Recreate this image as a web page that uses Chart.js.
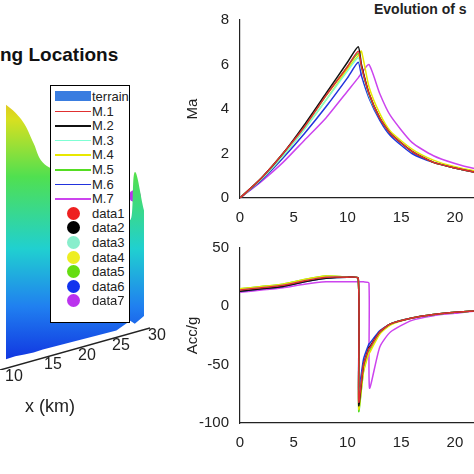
<!DOCTYPE html>
<html>
<head>
<meta charset="utf-8">
<script src="https://cdn.jsdelivr.net/npm/chart.js@4"></script>
<style>
  body { margin:0; width:474px; height:474px; overflow:hidden; position:relative; background:#fff; font-family:"Liberation Sans", Arial, sans-serif; }
  .abs { position:absolute; }
  #legend { left:50px; top:85px; width:78px; height:236px; border:1.5px solid #000; background:#fff; font-size:13px; color:#222; }
  #legend div { position:absolute; left:0; height:15px; width:78px; }
  #legend span.t { position:absolute; left:41px; top:0; line-height:15px; }
  .tick { font-size:16px; color:#222; }
</style>
</head>
<body>
<div class="abs" style="left:0;top:44px;font-size:19px;font-weight:bold;color:#111">ng Locations</div>
<div class="abs" style="left:0;top:70px;width:150px;height:300px"><canvas id="terrain"></canvas></div>
<div class="abs" id="legend"></div>
<div class="abs tick" style="left:5px;top:367px">10</div>
<div class="abs tick" style="left:44px;top:355px">15</div>
<div class="abs tick" style="left:78px;top:346px">20</div>
<div class="abs tick" style="left:112px;top:336px">25</div>
<div class="abs tick" style="left:148px;top:326px">30</div>
<div class="abs" style="left:25px;top:396px;font-size:18px;color:#222">x (km)</div>
<div class="abs" style="left:374px;top:1px;font-size:14px;font-weight:bold;color:#222;white-space:nowrap">Evolution of s</div>
<div class="abs" style="left:180px;top:0;width:340px;height:225px"><canvas id="ma"></canvas></div>
<div class="abs" style="left:180px;top:235px;width:340px;height:225px"><canvas id="acc"></canvas></div>
<script>
const names = ['M.1','M.2','M.3','M.4','M.5','M.6','M.7'];
const colors = ['#e03030','#111111','#7fffd4','#e8e800','#55dd22','#2233dd','#cc44ee'];
const dotColors = ['#ee2020','#000000','#88eecc','#eeee22','#66dd11','#1133ee','#bb33ee'];

const tMa = [0,2,4,6,8,10,11,11.3,12,13,14,16,18,20,22,25];
const maM1 = [0,0.9,2.0,3.2,4.6,5.9,6.6,5.9,4.7,3.6,2.9,2.1,1.6,1.35,1.15,0.9];
const maM2 = [0,0.9,2.0,3.3,4.7,6.1,6.8,6.0,4.7,3.6,2.9,2.1,1.6,1.35,1.15,0.9];
const maM3 = [0,0.85,1.9,3.1,4.4,5.7,6.3,5.8,4.6,3.6,2.9,2.1,1.6,1.35,1.15,0.9];
const maM4 = [0,0.85,1.9,3.1,4.4,5.8,6.4,6.6,5.0,3.8,3.0,2.2,1.7,1.4,1.2,0.95];
const maM5 = [0,0.9,2.0,3.2,4.6,5.9,6.5,5.9,4.7,3.6,2.9,2.1,1.6,1.35,1.15,0.9];
const maM6 = [0,0.8,1.8,2.9,4.1,5.4,6.1,5.5,4.5,3.5,2.8,2.0,1.6,1.35,1.15,0.9];
const maM7 = [0,0.75,1.6,2.6,3.6,4.8,5.4,5.6,6.0,4.7,3.7,2.5,1.9,1.55,1.3,1.0];

const tAcc = [0,2,4,6,8,10,11,11.05,11.5,12,12.05,13,14,16,18,20,22,25];
const accM1 = [14,16,18,22,25,25,24,-82,-50,-36,-36,-22,-15,-10,-7,-5,-4,-3];
const accM2 = [13,15,17,21,24,25,24,-85,-50,-35,-35,-22,-15,-10,-7,-5,-4,-3];
const accM3 = [14,16,18,22,25,25,24,-80,-50,-36,-36,-22,-15,-10,-7,-5,-4,-3];
const accM4 = [15,17,19,23,26,25,24,-88,-56,-40,-40,-24,-16,-10,-7,-5,-4,-3];
const accM5 = [15,17,19,23,26,25,24,-90,-55,-38,-38,-23,-15,-10,-7,-5,-4,-3];
const accM6 = [13,15,17,21,24,25,24,-72,-45,-32,-32,-21,-15,-10,-7,-5,-4,-3];
const accM7 = [12,14,16,19,21,21,21,21,21,20,-70,-35,-22,-12,-8,-6,-4,-3];

// terrain outline (rough, in canvas units)
const terrX = [0,10,20,30,40,60,80,100,120,135,140,150];
const terrTop = [270,262,250,230,210,200,195,190,195,150,200,160];
const terrBottom = [5,8,10,12,15,20,25,30,35,45,42,50];
const dotsX = [0,3,140];
const dotsY = [220,195,175];

// legend
const legend = document.getElementById('legend');
const rows = ['terrain'].concat(names, ['data1','data2','data3','data4','data5','data6','data7']);
rows.forEach((r, i) => {
  const d = document.createElement('div');
  d.style.top = (3 + i * 14.6) + 'px';
  let mark;
  if (i == 0) mark = '<span style="position:absolute;left:4px;top:2px;width:36px;height:10px;background:#3a7de0"></span>';
  else if (i <= 7) mark = '<span style="position:absolute;left:4px;top:7px;width:36px;height:1.5px;background:' + colors[i-1] + '"></span>';
  else mark = '<span style="position:absolute;left:16px;top:1px;width:13px;height:13px;border-radius:50%;background:' + dotColors[i-8] + '"></span>';
  d.innerHTML = mark + '<span class="t">' + r + '</span>';
  legend.appendChild(d);
});

function pts(t, v) { return t.map((x, i) => ({x: x, y: v[i]})); }

new Chart(document.getElementById('terrain'), {
  type: 'line',
  data: { datasets: [
    { data: pts(terrX, terrBottom), borderWidth: 0, pointRadius: 0, fill: false },
    { data: pts(terrX, terrTop), borderWidth: 0, pointRadius: 0, tension: 0.4, fill: '-1',
      backgroundColor: (ctx) => {
        const a = ctx.chart.chartArea;
        if (!a) return '#3a7de0';
        const g = ctx.chart.ctx.createLinearGradient(0, a.top, 0, a.bottom);
        g.addColorStop(0, '#f0a020'); g.addColorStop(0.15, '#d8e020');
        g.addColorStop(0.35, '#50e050'); g.addColorStop(0.6, '#20d0d0');
        g.addColorStop(0.8, '#2080f0'); g.addColorStop(1, '#1030e0');
        return g;
      } },
    { type: 'scatter', data: pts(dotsX, dotsY), pointRadius: 6,
      backgroundColor: ['#ee2020','#000','#bb33ee'], borderWidth: 0 }
  ]},
  options: {
    animation: false, responsive: true, maintainAspectRatio: false,
    plugins: { legend: { display: false }, tooltip: { enabled: false } },
    layout: { padding: 0 },
    scales: { x: { type: 'linear', min: 0, max: 150, display: false },
              y: { min: 0, max: 300, display: false } }
  },
  plugins: [{
    id: 'axisLine',
    afterDraw(c) {
      const g = c.ctx;
      g.save(); g.strokeStyle = '#222'; g.lineWidth = 1.5;
      g.beginPath(); g.moveTo(0, 300); g.lineTo(150, 258); g.stroke();
      g.restore();
    }
  }]
});

function lineChart(id, t, series, yMin, yMax, yStep, title, padTop, xHeight) {
  new Chart(document.getElementById(id), {
    type: 'line',
    data: { datasets: series.map((s, i) => ({
      label: names[i], data: pts(t, s), borderColor: colors[i],
      borderWidth: 1.5, pointRadius: 0, tension: 0.2, fill: false
    })) },
    options: {
      animation: false, responsive: true, maintainAspectRatio: false,
      layout: { padding: { top: padTop, right: 11 } },
      plugins: { legend: { display: false }, tooltip: { enabled: false } },
      scales: {
        x: { type: 'linear', min: 0, max: 25,
             ticks: { stepSize: 5, color: '#222', font: { size: 15, family: 'Liberation Sans' } },
             grid: { display: false }, border: { color: '#222', width: 1.2 },
             afterFit: (s) => { s.height = xHeight; } },
        y: { min: yMin, max: yMax,
             ticks: { stepSize: yStep, color: '#222', font: { size: 15, family: 'Liberation Sans' } },
             title: { display: true, text: title, color: '#222', font: { size: 15, family: 'Liberation Sans' } },
             grid: { display: false }, border: { color: '#222', width: 1.2 },
             afterFit: (s) => { s.width = 60; } }
      }
    }
  });
}

lineChart('ma', tMa, [maM1, maM2, maM3, maM4, maM5, maM6, maM7], 0, 8, 2, 'Ma', 20, 27);
lineChart('acc', tAcc, [accM1, accM2, accM3, accM4, accM5, accM6, accM7], -100, 50, 50, 'Acc/g', 13, 37);
</script>
</body>
</html>
